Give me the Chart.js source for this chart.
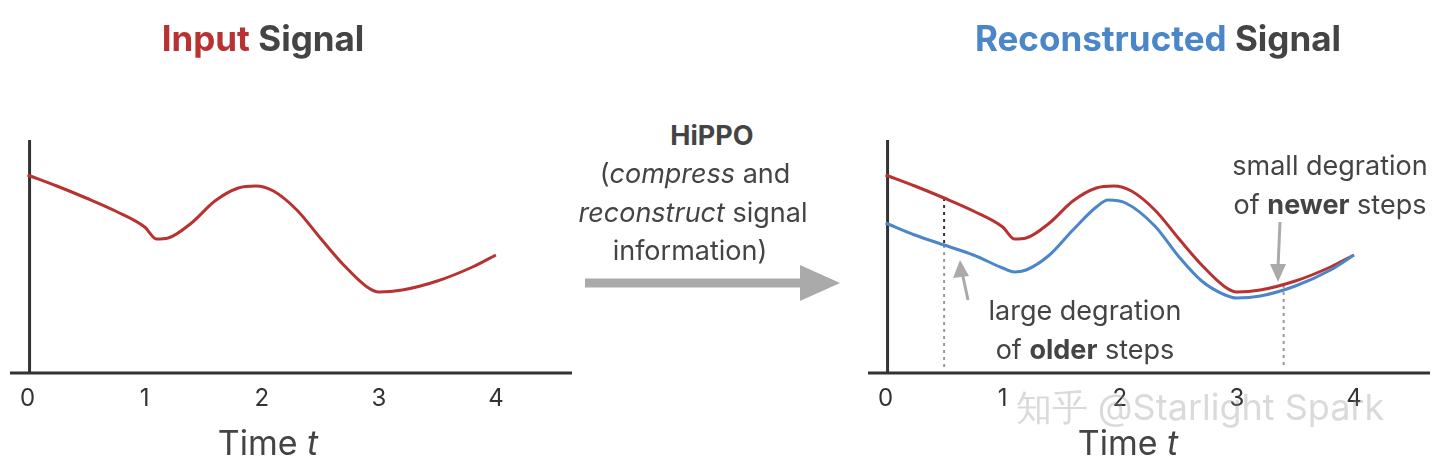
<!DOCTYPE html>
<html><head><meta charset="utf-8">
<script src="https://cdn.jsdelivr.net/npm/chart.js@4"></script>
<style>
body{margin:0;width:1456px;height:476px;background:#fff;position:relative;overflow:hidden;font-family:Inter,"Open Sans",sans-serif;}
.c{position:absolute;top:0;height:476px}
.t{position:absolute;white-space:nowrap;transform:translate(-50%,-50%);color:#444}
</style></head><body>
<div class="c" style="left:0;width:600px"><canvas id="a" width="600" height="476"></canvas></div>
<div class="c" style="left:858px;width:598px"><canvas id="b" width="598" height="476"></canvas></div>
<div class="t" style="left:263px;top:38px;font-size:35px;font-weight:700"><span style="color:#b83232">Input</span> Signal</div>
<div class="t" style="left:1158px;top:38px;font-size:35px;font-weight:700"><span style="color:#4a86c8">Reconstructed</span> Signal</div>
<div class="t" style="left:712px;top:135px;font-size:27px;font-weight:700">HiPPO</div>
<div class="t" style="left:695px;top:173px;font-size:27px">(<i>compress</i> and</div>
<div class="t" style="left:693px;top:212px;font-size:27px"><i>reconstruct</i> signal</div>
<div class="t" style="left:690px;top:250px;font-size:27px">information)</div>
<div class="t" style="left:1330px;top:165px;font-size:27px">small degration</div>
<div class="t" style="left:1330px;top:204px;font-size:27px">of <b>newer</b> steps</div>
<div class="t" style="left:1085px;top:310px;font-size:27px">large degration</div>
<div class="t" style="left:1085px;top:349px;font-size:27px">of <b>older</b> steps</div>
<div class="t" style="left:268px;top:442px;font-size:34px">Time <i>t</i></div>
<div class="t" style="left:1128px;top:442px;font-size:34px">Time <i>t</i></div>
<div class="t" style="left:1200px;top:408px;font-size:36px;color:rgba(150,150,150,0.35)">知乎 @Starlight Spark</div>
<svg style="position:absolute;left:0;top:0" width="1456" height="476">
<line x1="585" y1="283" x2="805" y2="283" stroke="#aaa" stroke-width="9"/>
<polygon points="800,265 840,283 800,301" fill="#aaa"/>
<line x1="968" y1="300" x2="962" y2="272" stroke="#aaa" stroke-width="3"/>
<polygon points="953,278 960,260 969,276" fill="#aaa"/>
<line x1="1280" y1="222" x2="1278" y2="268" stroke="#aaa" stroke-width="3"/>
<polygon points="1270,264 1278,282 1286,264" fill="#aaa"/>
</svg>
<script>
const tRed=[0,0.25,0.5,0.75,1.0,1.1,1.2,1.4,1.6,1.8,1.95,2.1,2.3,2.5,2.7,2.9,3.0,3.2,3.5,3.8,4.0];
const vRed=[198,187,175,162,146,134,135,150,172,185,187,182,163,135,108,86,81,83,92,106,118];
const tBlue=[0,0.25,0.5,0.75,1.0,1.1,1.2,1.4,1.6,1.8,1.9,2.05,2.3,2.5,2.7,2.9,3.0,3.2,3.5,3.8,4.0];
const vBlue=[150,138,128,118,105,101,103,118,143,166,173,170,147,117,92,78,75,77,87,103,118];
const xTicks=[0,1,2,3,4];
const markers=[0.5,3.4];
const red='#b83232',blue='#4a86c8';
const pts=(t,v)=>t.map((x,i)=>({x,y:v[i]}));
function axes(withMarkers){return{id:'ax',beforeDatasetsDraw(c){const g=c.ctx,x=c.scales.x,y=c.scales.y,a=c.chartArea;
g.save();g.strokeStyle='#333';g.lineWidth=3;g.beginPath();g.moveTo(a.left,a.bottom);g.lineTo(a.right,a.bottom);
const x0=x.getPixelForValue(0)+2;g.moveTo(x0,a.bottom);g.lineTo(x0,a.top);g.stroke();
g.fillStyle='#333';g.font='24px Inter';g.textAlign='center';g.textBaseline='top';
xTicks.forEach(t=>g.fillText(String(t),x.getPixelForValue(t),a.bottom+14));
if(withMarkers){g.setLineDash([3,4]);g.lineWidth=2;
const m0=x.getPixelForValue(markers[0]);g.strokeStyle='#333';g.beginPath();g.moveTo(m0,y.getPixelForValue(175));g.lineTo(m0,y.getPixelForValue(128));g.stroke();
g.strokeStyle='#999';g.beginPath();g.moveTo(m0,y.getPixelForValue(128));g.lineTo(m0,a.bottom-6);g.stroke();
const m1=x.getPixelForValue(markers[1]);g.beginPath();g.moveTo(m1,y.getPixelForValue(88));g.lineTo(m1,a.bottom-6);g.stroke();}
g.restore();}}}
function mk(id,sets,withM,pr){new Chart(document.getElementById(id),{type:'line',data:{datasets:sets.map(([t,v,c])=>({data:pts(t,v),borderColor:c,borderWidth:3,pointRadius:0,cubicInterpolationMode:'monotone',fill:false}))},
options:{responsive:false,animation:false,layout:{padding:{left:10,right:pr,top:140,bottom:103}},
plugins:{legend:{display:false},tooltip:{enabled:false}},
scales:{x:{type:'linear',min:-0.15,max:4.65,display:false},y:{min:0,max:233,display:false}}},plugins:[axes(withM)]});}
mk('a',[[tRed,vRed,red]],false,28);
mk('b',[[tBlue,vBlue,blue],[tRed,vRed,red]],true,26);
</script></body></html>
